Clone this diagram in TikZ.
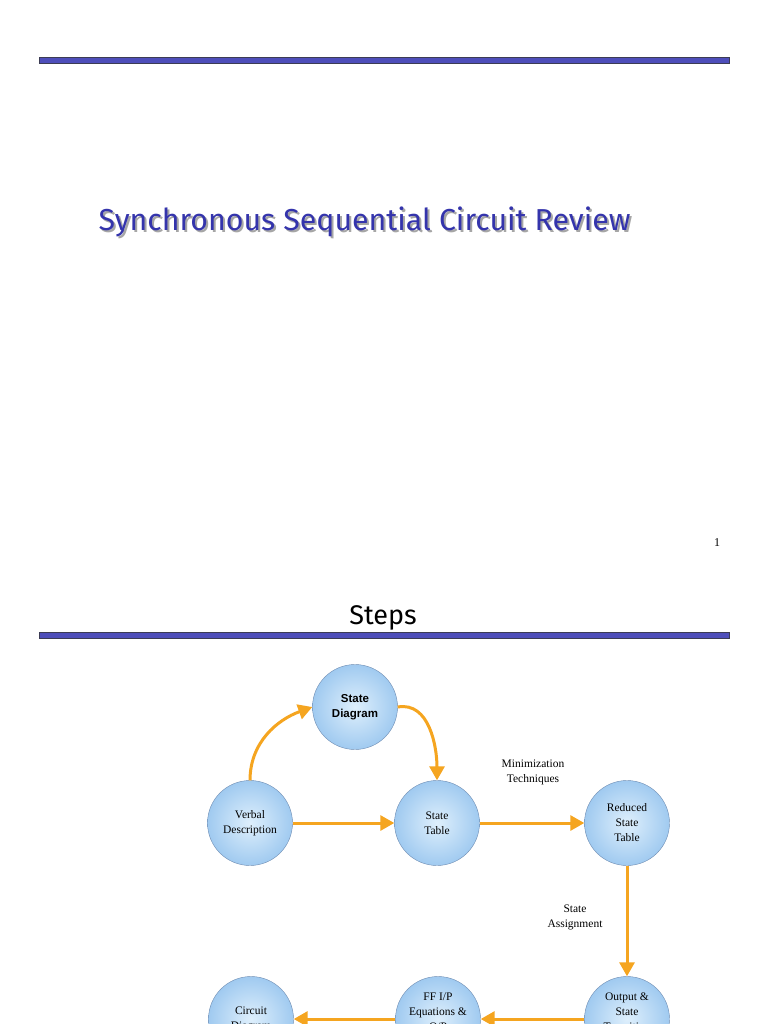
\documentclass[tikz,border=0pt]{standalone}
\usepackage{fontspec}
\setmainfont{Liberation Serif}
\newfontfamily\comicfont{Fira Sans}
\newfontfamily\arialfont{Liberation Sans}
\usetikzlibrary{arrows.meta}
\definecolor{rulefill}{RGB}{78,78,186}
\definecolor{ruleedge}{RGB}{60,60,84}
\definecolor{titleblue}{RGB}{52,52,172}
\definecolor{flowarrow}{RGB}{245,165,32}
\definecolor{circleinner}{RGB}{222,239,252}
\definecolor{circleouter}{RGB}{160,202,240}
\definecolor{circleline}{RGB}{110,140,178}

\begin{document}
\begin{tikzpicture}[x=1pt, y=-1pt,
	every node/.style={font=\fontsize{11.5}{15}\selectfont, align=center},
	stepnode/.style={circle, draw=circleline, inner color=circleinner, outer color=circleouter, minimum size=85pt, inner sep=0pt},
	flow/.style={draw=flowarrow, line width=3pt, -{Triangle[length=14pt,width=15pt]}}]
	\useasboundingbox (0,0) rectangle (768,1024);
	\fill[white] (0,0) rectangle (768,1024);
	% first slide
	\draw[ruleedge, fill=rulefill] (39,57) rectangle (729,63);
	\node[gray!70, anchor=base west, font=\comicfont\fontsize{30.3}{36}\selectfont] (titleshadow) at (97,233) {Synchronous Sequential Circuit Review};
	\node[titleblue, anchor=base west, font=\comicfont\fontsize{30.3}{36}\selectfont] (title) at (95,231) {Synchronous Sequential Circuit Review};
	\node[font=\fontsize{12}{14}\selectfont] (pagenum) at (717,543) {1};
	% second slide
	\node[anchor=base, font=\comicfont\fontsize{27}{30}\selectfont] (steps) at (383,624) {Steps};
	\draw[ruleedge, fill=rulefill] (39,632) rectangle (729,638);
	\node[stepnode, font=\arialfont\bfseries\fontsize{11.5}{15}\selectfont] (diagram) at (355,707) {State\\Diagram};
	\node[stepnode] (verbal) at (250,823) {Verbal\\Description};
	\node[stepnode] (table) at (437,823) {State\\Table};
	\node[stepnode] (reduced) at (627,823) {Reduced\\State\\Table};
	\node[stepnode] (output) at (627,1019) {Output \&\\State\\Transition\\~};
	\node[stepnode] (ffeq) at (438,1019) {FF I/P\\Equations \&\\O/P\\~};
	\node[stepnode] (circuit) at (251,1019) {Circuit\\Diagram};
	\node (minlabel) at (533,772) {Minimization\\Techniques};
	\node (assignlabel) at (575,917) {State\\Assignment};
	\draw[flow] (verbal.north) to[out=90, in=200] (diagram.west);
	\draw[flow] (diagram.east) to[out=10, in=90] (table.north);
	\draw[flow] (verbal) -- (table);
	\draw[flow] (table) -- (reduced);
	\draw[flow] (reduced) -- (output);
	\draw[flow] (output) -- (ffeq);
	\draw[flow] (ffeq) -- (circuit);
\end{tikzpicture}
\end{document}
